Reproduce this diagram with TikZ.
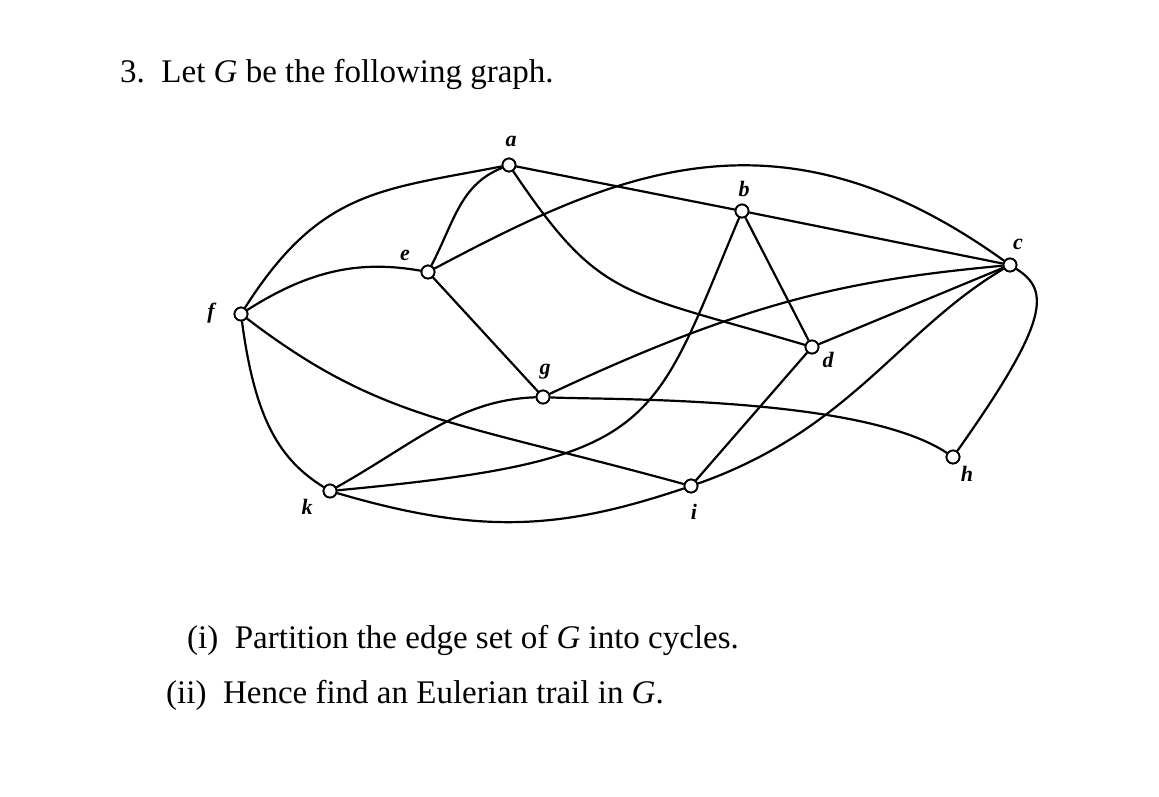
\documentclass[tikz,border=0pt]{standalone}
\usepackage{fontspec}
\setmainfont{Liberation Serif}
\begin{document}
\begin{tikzpicture}[x=1pt,y=-1pt,
  v/.style={circle,draw,fill=white,line width=1.8pt,inner sep=0pt,minimum size=13pt},
  lab/.style={font=\fontsize{22}{24}\selectfont\bfseries\itshape},
  ed/.style={line width=2.2pt},
  txt/.style={font=\fontsize{33}{38}\selectfont,anchor=base west,inner sep=0pt}]
\useasboundingbox (0,0) rectangle (1159,796);
\node[v] (a) at (509,165) {};
\node[v] (b) at (742,211) {};
\node[v] (c) at (1010,265) {};
\node[v] (d) at (812,347) {};
\node[v] (e) at (428,272) {};
\node[v] (f) at (241,314) {};
\node[v] (g) at (543,397) {};
\node[v] (h) at (953,457) {};
\node[v] (i) at (691,486) {};
\node[v] (k) at (330,491) {};
\draw[ed] (a) -- (b);
\draw[ed] (b) -- (c);
\draw[ed] (b) -- (d);
\draw[ed] (d) -- (c);
\draw[ed] (d) -- (i);
\draw[ed] (e) -- (g);
\draw[ed] (a) .. controls (380,190) and (320,190) .. (f);
\draw[ed] (a) .. controls (460,185) and (455,220) .. (e);
\draw[ed] (a) .. controls (600,300) and (620,290) .. (d);
\draw[ed] (e) .. controls (620,170) and (780,100) .. (c);
\draw[ed] (f) .. controls (310,270) and (360,260) .. (e);
\draw[ed] (g) .. controls (750,300) and (850,280) .. (c);
\draw[ed] (g) .. controls (600,400) and (860,395) .. (h);
\draw[ed] (k) .. controls (420,440) and (460,400) .. (g);
\draw[ed] (b) .. controls (650,430) and (660,460) .. (k);
\draw[ed] (k) .. controls (480,535) and (560,530) .. (i);
\draw[ed] (f) .. controls (380,420) and (450,420) .. (i);
\draw[ed] (f) .. controls (255,420) and (280,460) .. (k);
\draw[ed] (i) .. controls (850,430) and (900,330) .. (c);
\draw[ed] (c) .. controls (1050,290) and (1050,320) .. (h);
\foreach \n in {a,b,c,d,e,f,g,h,i,k} \node[v] at (\n) {};
\node[lab] (la) at (511,141) {a};
\node[lab] (lb) at (744,189) {b};
\node[lab] (lc) at (1018,244) {c};
\node[lab] (ld) at (828,360) {d};
\node[lab] (le) at (405,255) {e};
\node[lab] (lf) at (211,313) {f};
\node[lab] (lg) at (545,372) {g};
\node[lab] (lh) at (967,474) {h};
\node[lab] (li) at (694,512) {i};
\node[lab] (lk) at (307,507) {k};
\node[txt] (t1) at (120,82) {3.\ \ Let \textit{G} be the following graph.};
\node[txt] (t2) at (187,648) {(i)\ \ Partition the edge set of \textit{G} into cycles.};
\node[txt] (t3) at (166,703) {(ii)\ \ Hence find an Eulerian trail in \textit{G}.};
\end{tikzpicture}
\end{document}
